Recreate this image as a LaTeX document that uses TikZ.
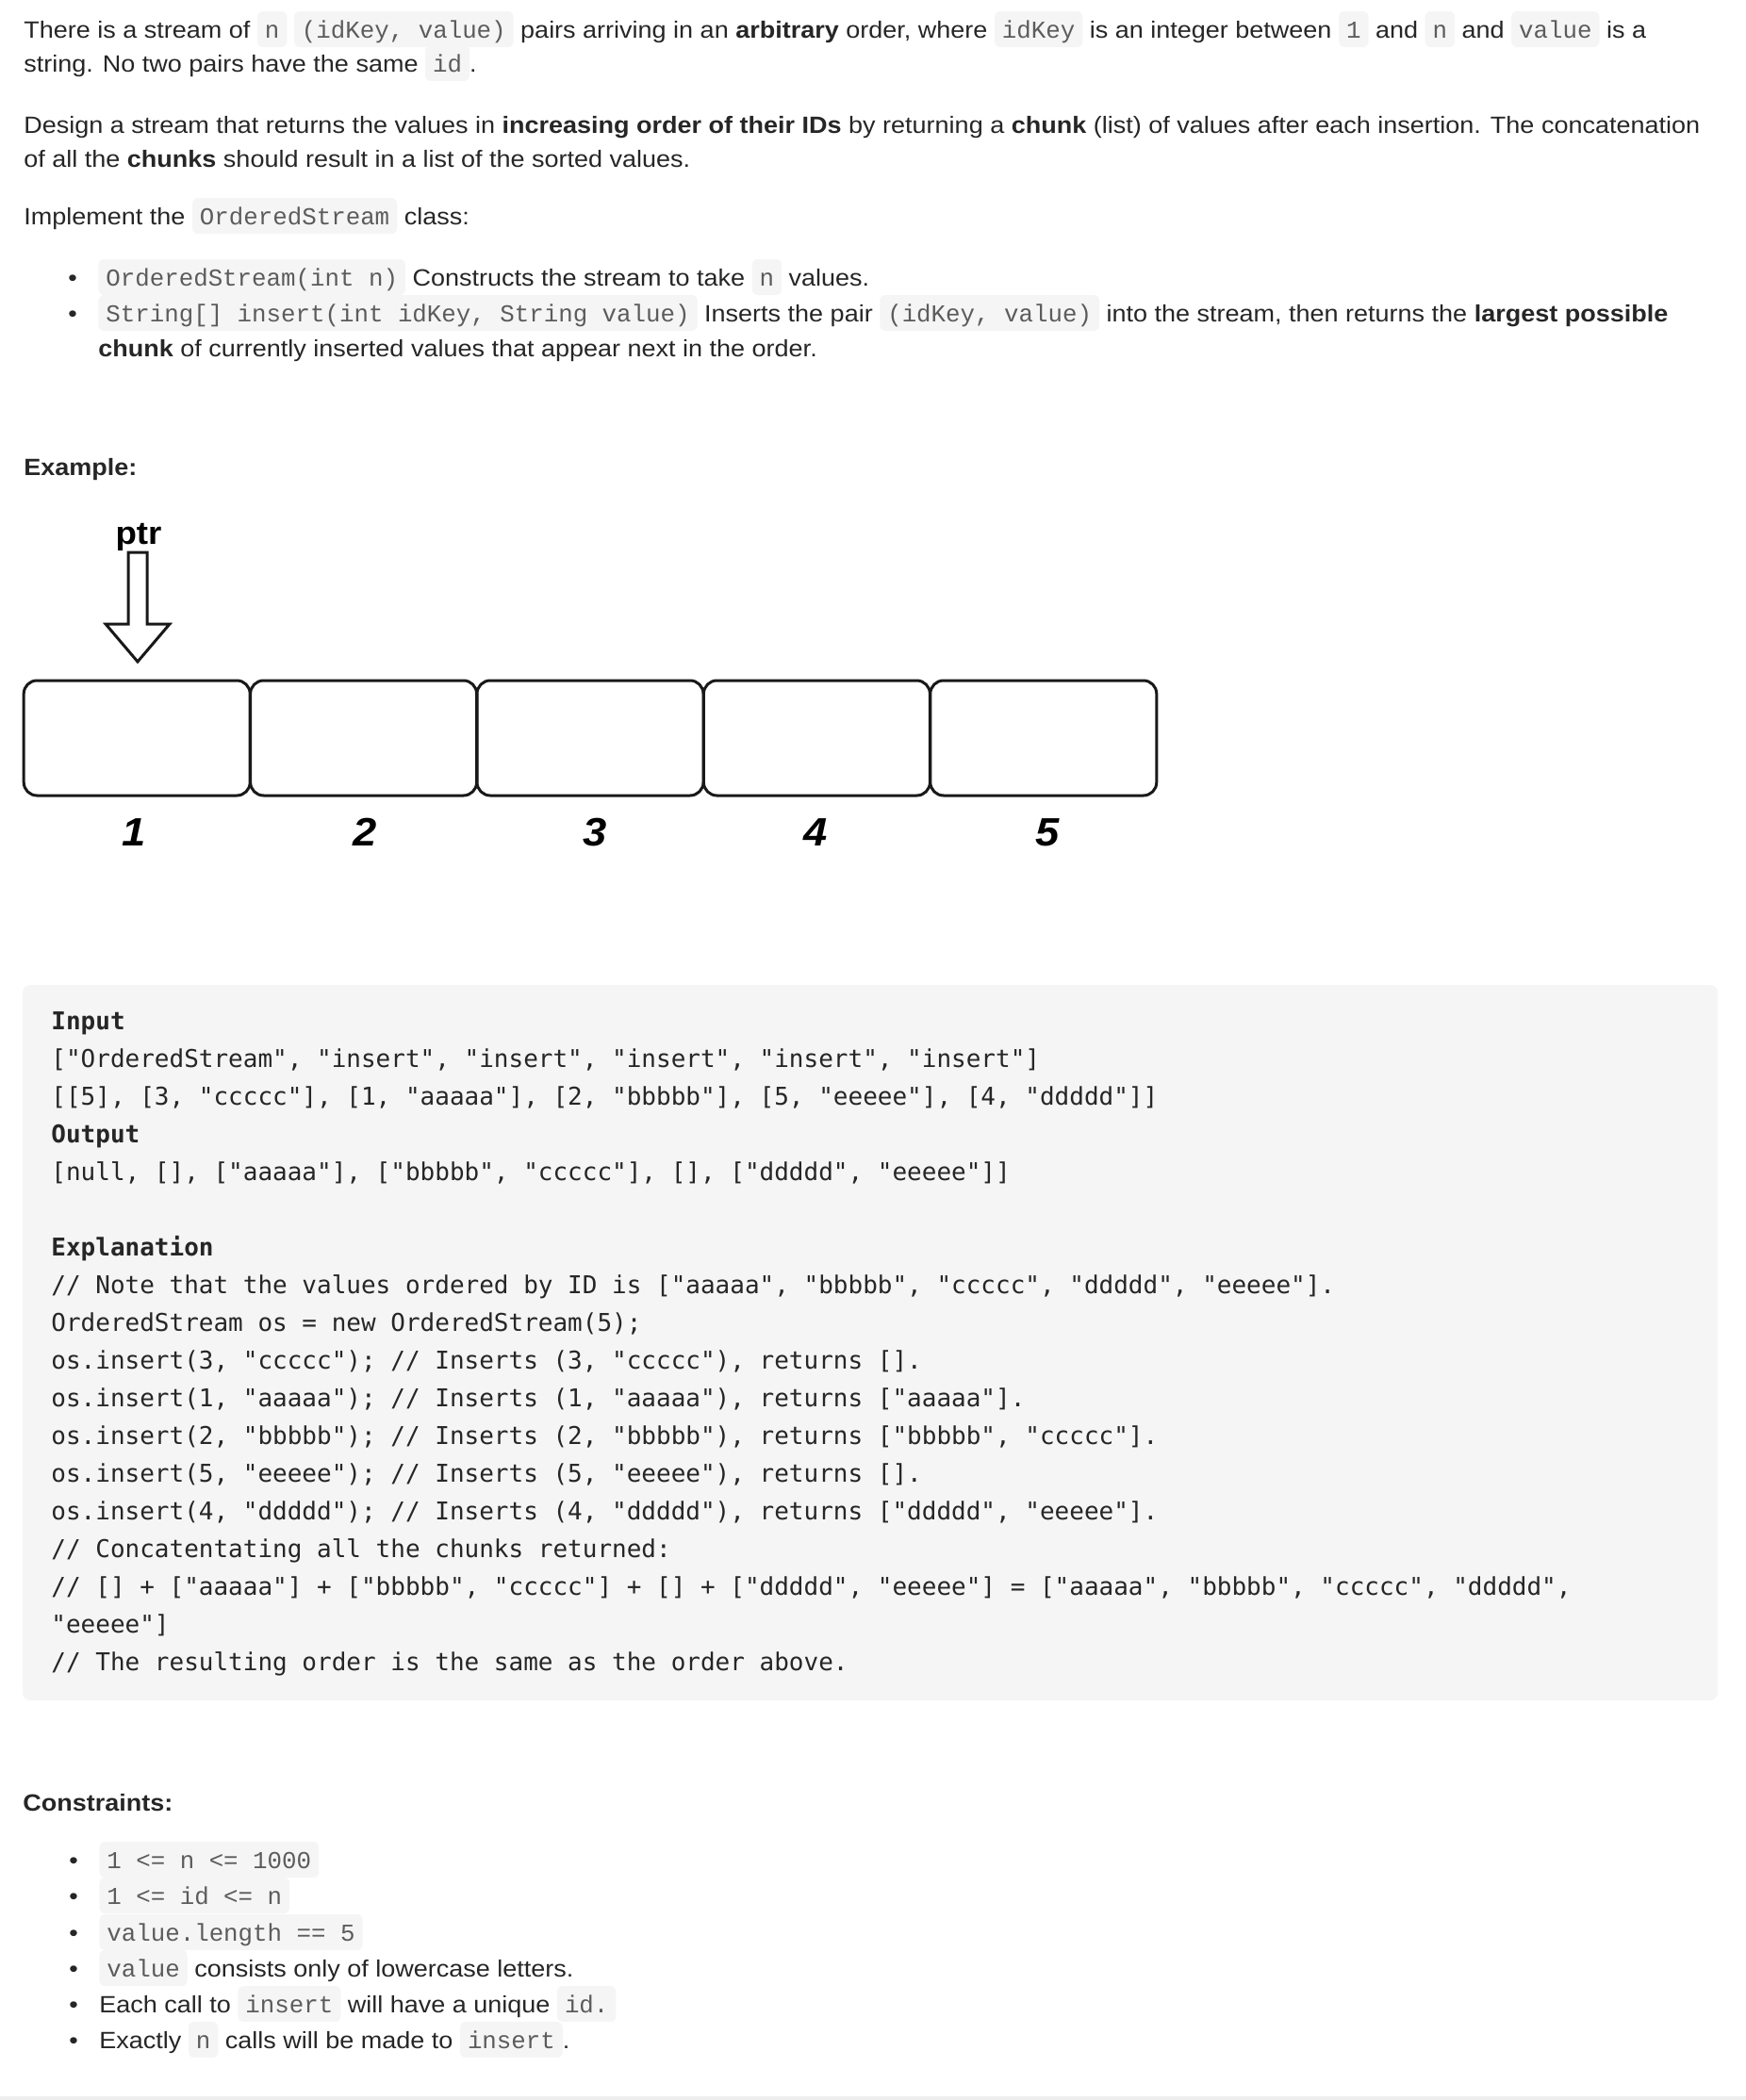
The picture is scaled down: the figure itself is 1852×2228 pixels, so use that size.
\documentclass[tikz,border=0pt]{standalone}
\usepackage{fontspec}
\setmainfont{Liberation Sans}[FakeStretch=1.08]
\newfontfamily\icodefont{Liberation Mono}
\newfontfamily\blockfont{DejaVu Sans Mono}
\usetikzlibrary{positioning}
\definecolor{txt}{HTML}{262626}
\definecolor{codegray}{HTML}{5C5C5C}
\definecolor{codebg}{HTML}{F5F5F5}
\definecolor{rulegray}{HTML}{EEEEEE}
\tikzset{>=stealth}
\tikzset{
  para/.style={anchor=base west, inner sep=0pt, text=txt, font=\fontsize{12.5}{15}\selectfont},
  icodebox/.style={fill=codebg, rounded corners=3pt, inner xsep=4pt, inner ysep=0pt,
    text height=14pt, text depth=5pt, text=codegray, font=\icodefont\fontsize{12.9}{15}\selectfont},
  dot/.style={anchor=base, inner sep=0pt, text=txt, font=\fontsize{12.5}{15}\selectfont},
  codeline/.style={anchor=base west, inner sep=0pt, text=txt, font=\blockfont\fontsize{13}{15}\selectfont},
  cell/.style={draw=black!90, line width=1.5pt, rounded corners=7pt, minimum width=120pt, minimum height=61pt},
  idx/.style={inner sep=0pt, font=\bfseries\itshape\fontsize{21}{24}\selectfont},
  ptrlabel/.style={inner sep=0pt, font=\bfseries\fontsize{17}{19}\selectfont},
  ptrarrow/.style={draw=black!90, fill=white, line width=1.5pt, line join=miter}
}
\newcommand{\icode}[1]{\tikz[baseline=(ic.base)]\node[icodebox](ic){#1};}

\begin{document}
\begin{tikzpicture}[x=0.5pt, y=-0.5pt]
    \useasboundingbox (0,0) rectangle (1852,2228);
    % description
    \node[para] (p1) at (25,40) {There is a stream of \icode{n} \icode{(idKey, value)} pairs arriving in an \textbf{arbitrary} order, where \icode{idKey} is an integer between \icode{1} and \icode{n} and \icode{value} is a};
    \node[para] (p2) at (25,76) {string. No two pairs have the same \icode{id}.};
    \node[para] (p3) at (25,141) {Design a stream that returns the values in \textbf{increasing order of their IDs} by returning a \textbf{chunk} (list) of values after each insertion. The concatenation};
    \node[para] (p4) at (25,177) {of all the \textbf{chunks} should result in a list of the sorted values.};
    \node[para] (p5) at (25,238) {Implement the \icode{OrderedStream} class:};
    \node[dot] (d1) at (77,303) {•};
    \node[para] (b1) at (104,303) {\icode{OrderedStream(int n)} Constructs the stream to take \icode{n} values.};
    \node[dot] (d2) at (77,341) {•};
    \node[para] (b2) at (104,341) {\icode{String[] insert(int idKey, String value)} Inserts the pair \icode{(idKey, value)} into the stream, then returns the \textbf{largest possible}};
    \node[para] (b3) at (104,378) {\textbf{chunk} of currently inserted values that appear next in the order.};
    \node[para] (ex) at (25,504) {\textbf{Example:}};

    % stream cells
    \foreach \i in {1,...,5}
        \node[cell] (c\i) at ({145.2+240.4*(\i-1)},783) {};
    \foreach \i/\nx in {1/142,2/387,3/631,4/865,5/1111}
        \node[idx] (n\i) at (\nx,883) {\i};
    \node[ptrlabel] (ptr) at (147,570) {ptr};
    \draw[ptrarrow] (136,586) -- (156,586) -- (156,662) -- (180,662) -- (146,702) -- (112,662) -- (136,662) -- cycle;

    % example block
    \fill[codebg, rounded corners=4pt] (24,1045) rectangle (1822,1804);
    \node[codeline] (k1) at (54,1092) {\textbf{Input}};
    \node[codeline] (k2) at (54,1132) {["OrderedStream", "insert", "insert", "insert", "insert", "insert"]};
    \node[codeline] (k3) at (54,1172) {[[5], [3, "ccccc"], [1, "aaaaa"], [2, "bbbbb"], [5, "eeeee"], [4, "ddddd"]]};
    \node[codeline] (k4) at (54,1212) {\textbf{Output}};
    \node[codeline] (k5) at (54,1252) {[null, [], ["aaaaa"], ["bbbbb", "ccccc"], [], ["ddddd", "eeeee"]]};
    \node[codeline] (k6) at (54,1332) {\textbf{Explanation}};
    \node[codeline] (k7) at (54,1372) {// Note that the values ordered by ID is ["aaaaa", "bbbbb", "ccccc", "ddddd", "eeeee"].};
    \node[codeline] (k8) at (54,1412) {OrderedStream os = new OrderedStream(5);};
    \node[codeline] (k9) at (54,1452) {os.insert(3, "ccccc"); // Inserts (3, "ccccc"), returns [].};
    \node[codeline] (k10) at (54,1492) {os.insert(1, "aaaaa"); // Inserts (1, "aaaaa"), returns ["aaaaa"].};
    \node[codeline] (k11) at (54,1532) {os.insert(2, "bbbbb"); // Inserts (2, "bbbbb"), returns ["bbbbb", "ccccc"].};
    \node[codeline] (k12) at (54,1572) {os.insert(5, "eeeee"); // Inserts (5, "eeeee"), returns [].};
    \node[codeline] (k13) at (54,1612) {os.insert(4, "ddddd"); // Inserts (4, "ddddd"), returns ["ddddd", "eeeee"].};
    \node[codeline] (k14) at (54,1652) {// Concatentating all the chunks returned:};
    \node[codeline] (k15) at (54,1692) {// [] + ["aaaaa"] + ["bbbbb", "ccccc"] + [] + ["ddddd", "eeeee"] = ["aaaaa", "bbbbb", "ccccc", "ddddd",};
    \node[codeline] (k16) at (54,1732) {"eeeee"]};
    \node[codeline] (k17) at (54,1772) {// The resulting order is the same as the order above.};

    % constraints
    \node[para] (cs) at (24,1921) {\textbf{Constraints:}};
    \foreach \y in {1982,2020,2059,2097,2135,2173}
        \node[dot] at (78,\y) {•};
    \node[para] (r1) at (105,1982) {\icode{1 <= n <= 1000}};
    \node[para] (r2) at (105,2020) {\icode{1 <= id <= n}};
    \node[para] (r3) at (105,2059) {\icode{value.length == 5}};
    \node[para] (r4) at (105,2097) {\icode{value} consists only of lowercase letters.};
    \node[para] (r5) at (105,2135) {Each call to \icode{insert} will have a unique \icode{id.}};
    \node[para] (r6) at (105,2173) {Exactly \icode{n} calls will be made to \icode{insert}.};
    \fill[rulegray] (0,2224) rectangle (1852,2228);
\end{tikzpicture}
\end{document}
